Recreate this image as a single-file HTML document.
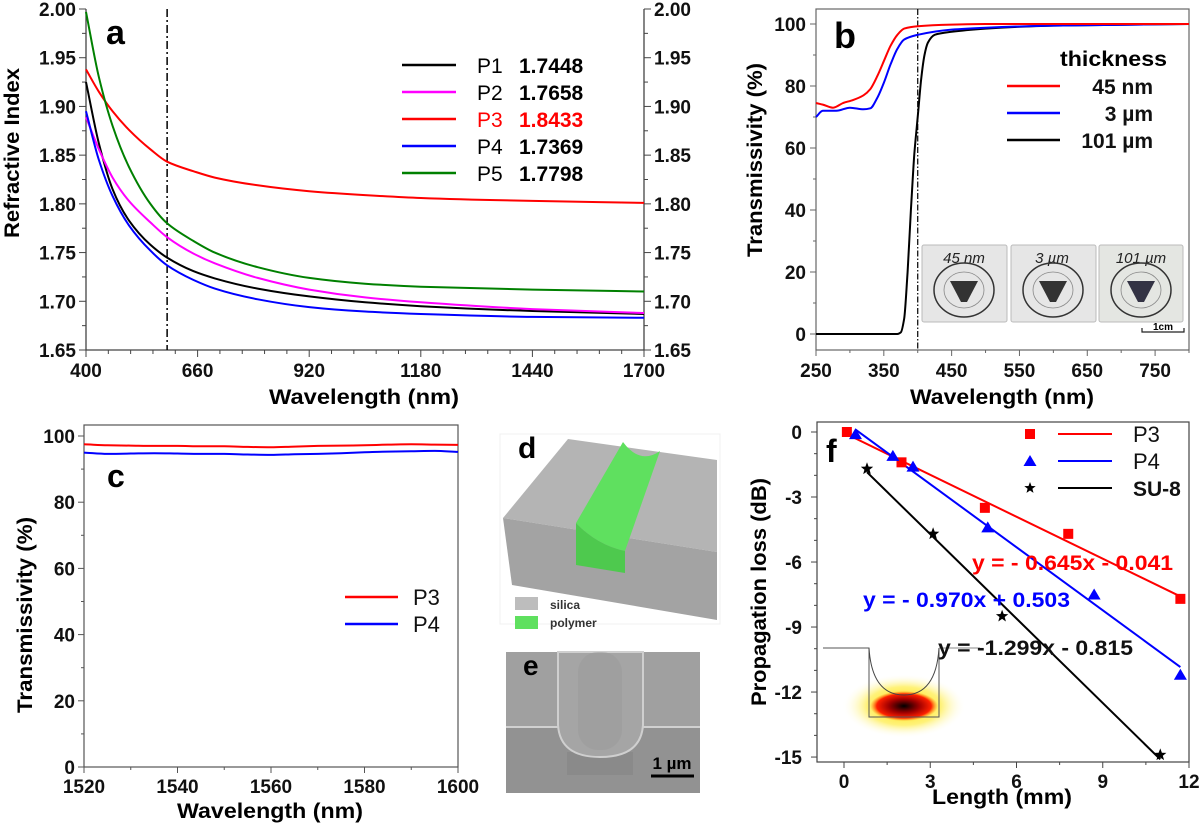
<!DOCTYPE html>
<html><head><meta charset="utf-8"><style>
html,body{margin:0;padding:0;background:#fff;}
svg{display:block;font-family:"Liberation Sans",Arial,sans-serif;}
</style></head><body>
<svg id="fig" width="1200" height="823" viewBox="0 0 1200 823" xmlns="http://www.w3.org/2000/svg" font-family="Liberation Sans, Arial, sans-serif">
  <rect x="0" y="0" width="1200" height="823" fill="#fff"/>
  <g id="pa"></g>
  <g id="pb"></g>
  <g id="pc"></g>
  <g id="pf"></g>

  <text x="106" y="44" font-size="34" font-weight="bold">a</text>
  <text x="364" y="404" font-size="21" font-weight="bold" text-anchor="middle" textLength="190" lengthAdjust="spacingAndGlyphs">Wavelength (nm)</text>
  <text transform="translate(19,153) rotate(-90)" font-size="21" font-weight="bold" text-anchor="middle" textLength="170" lengthAdjust="spacingAndGlyphs">Refractive Index</text>

  <text x="834" y="48" font-size="36" font-weight="bold">b</text>
  <text x="1002" y="404" font-size="21" font-weight="bold" text-anchor="middle" textLength="184" lengthAdjust="spacingAndGlyphs">Wavelength (nm)</text>
  <text transform="translate(762,160) rotate(-90)" font-size="21" font-weight="bold" text-anchor="middle" textLength="194" lengthAdjust="spacingAndGlyphs">Transmissivity (%)</text>
  <text x="1060" y="66" font-size="21" font-weight="bold" textLength="107" lengthAdjust="spacingAndGlyphs">thickness</text>
  <g>
    <g>
      <rect x="922" y="245" width="85" height="77" fill="#e6e6e6" stroke="#bbb" rx="2"/>
      <text x="964" y="263" font-size="15" font-style="italic" text-anchor="middle" fill="#222">45 nm</text>
      <ellipse cx="964" cy="290" rx="30" ry="27" fill="none" stroke="#333" stroke-width="1.5"/>
      <ellipse cx="964" cy="290" rx="20" ry="18" fill="none" stroke="#888" stroke-width="0.8"/>
      <polygon points="950,281 978,281 967,302 961,302" fill="#333"/>
    </g>
    <g>
      <rect x="1011" y="245" width="85" height="77" fill="#e6e6e6" stroke="#bbb" rx="2"/>
      <text x="1052" y="263" font-size="15" font-style="italic" text-anchor="middle" fill="#222">3 µm</text>
      <ellipse cx="1053" cy="290" rx="30" ry="27" fill="none" stroke="#333" stroke-width="1.5"/>
      <ellipse cx="1053" cy="290" rx="20" ry="18" fill="none" stroke="#888" stroke-width="0.8"/>
      <polygon points="1039,281 1067,281 1056,302 1050,302" fill="#333"/>
    </g>
    <g>
      <rect x="1099" y="245" width="84" height="77" fill="#e4e6e2" stroke="#bbb" rx="2"/>
      <text x="1141" y="263" font-size="15" font-style="italic" text-anchor="middle" fill="#222">101 µm</text>
      <ellipse cx="1141" cy="290" rx="30" ry="27" fill="none" stroke="#333" stroke-width="1.5"/>
      <ellipse cx="1141" cy="290" rx="20" ry="18" fill="none" stroke="#888" stroke-width="0.8"/>
      <polygon points="1127,281 1155,281 1144,302 1138,302" fill="#334"/>
    </g>
    <path d="M1142,328 V332 H1184 V328" fill="none" stroke="#222" stroke-width="1.2"/>
    <text x="1163" y="330" font-size="10" font-weight="bold" text-anchor="middle">1cm</text>
  </g>

  <text x="107" y="487" font-size="32" font-weight="bold">c</text>
  <text x="270" y="818" font-size="21" font-weight="bold" text-anchor="middle" textLength="186" lengthAdjust="spacingAndGlyphs">Wavelength (nm)</text>
  <text transform="translate(32,615) rotate(-90)" font-size="21" font-weight="bold" text-anchor="middle" textLength="196" lengthAdjust="spacingAndGlyphs">Transmissivity (%)</text>

  <g>
    <rect x="500" y="434" width="220" height="190" fill="#fff" stroke="#f0f0f0"/>
    <polygon points="568,439 717,460 717,552 503,518" fill="#b4b4b4"/>
    <polygon points="503,518 717,552 717,620 512,585" fill="#a3a3a3"/>
    <path d="M623,442 Q640,465 660,451 L625,551 Q597,545 576,523 Z" fill="#5fe05f"/>
    <path d="M576,523 Q597,545 625,551 L625,573 L576,565 Z" fill="#4ec94e"/>
    <text x="518" y="458" font-size="30" font-weight="bold">d</text>
    <rect x="515" y="597" width="23" height="13" fill="#bdbdbd"/>
    <text x="550" y="609" font-size="12" font-weight="bold" fill="#333">silica</text>
    <rect x="515" y="616" width="23" height="13" fill="#5fe05f"/>
    <text x="550" y="627" font-size="12" font-weight="bold" fill="#333">polymer</text>
  </g>

  <g>
    <rect x="506" y="652" width="194" height="141" fill="#a0a0a0"/>
    <rect x="506" y="727" width="194" height="66" fill="#929292"/>
    <line x1="506" y1="727" x2="700" y2="727" stroke="#d0d0d0" stroke-width="2"/>
    <rect x="567" y="752" width="66" height="23" fill="#8a8a8a"/>
    <path d="M558,652 V725 Q560,757 600,757 Q641,757 643,725 V652 Z" fill="#a5a5a5" stroke="#cfcfcf" stroke-width="2"/>
    <rect x="578" y="652" width="44" height="98" rx="20" fill="#999" opacity="0.5"/>
    <text x="523" y="675" font-size="28" font-weight="bold">e</text>
    <text x="672" y="769" font-size="17" font-weight="bold" text-anchor="middle">1 µm</text>
    <line x1="651" y1="776" x2="694" y2="776" stroke="#000" stroke-width="3"/>
  </g>

  <g>
    <defs>
      <radialGradient id="halo"><stop offset="0" stop-color="#ffe000"/><stop offset="0.6" stop-color="#fff27a"/><stop offset="1" stop-color="#fff" stop-opacity="0"/></radialGradient>
      <radialGradient id="core"><stop offset="0" stop-color="#000"/><stop offset="0.45" stop-color="#a00000"/><stop offset="0.8" stop-color="#ff2000"/><stop offset="1" stop-color="#ff8000" stop-opacity="0"/></radialGradient>
    </defs>
    <ellipse cx="904" cy="706" rx="62" ry="32" fill="url(#halo)"/>
    <ellipse cx="904" cy="706" rx="34" ry="15" fill="url(#core)"/>
    <path d="M823,648 H869 V717 H939 V648" fill="none" stroke="#555" stroke-width="1"/>
    <path d="M869,648 Q872,695 904,695 Q936,695 939,648" fill="none" stroke="#444" stroke-width="1"/>
    <line x1="939" y1="648" x2="980" y2="648" stroke="#888" stroke-width="1"/>
  </g>
  <text x="826" y="462" font-size="32" font-weight="bold">f</text>
  <text x="1002" y="804" font-size="21" font-weight="bold" text-anchor="middle" textLength="140" lengthAdjust="spacingAndGlyphs">Length (mm)</text>
  <text transform="translate(766,592) rotate(-90)" font-size="21" font-weight="bold" text-anchor="middle" textLength="228" lengthAdjust="spacingAndGlyphs">Propagation loss (dB)</text>
  <text x="972" y="570" font-size="21" font-weight="bold" fill="#ff0000" textLength="201" lengthAdjust="spacingAndGlyphs">y = - 0.645x - 0.041</text>
  <text x="863" y="607" font-size="21" font-weight="bold" fill="#0000ff" textLength="207" lengthAdjust="spacingAndGlyphs">y = - 0.970x + 0.503</text>
  <text x="938" y="655" font-size="21" font-weight="bold" fill="#111" textLength="195" lengthAdjust="spacingAndGlyphs">y = -1.299x - 0.815</text>
</svg>
<script>
// ---------- data: panel a ----------
const aWl = [400,430,462,500,550,589,650,700,800,920,1050,1180,1440,1700];
const aP1 = [1.925,1.862,1.815,1.783,1.758,1.7448,1.731,1.7235,1.713,1.705,1.699,1.695,1.690,1.687];
const aP2 = [1.889,1.856,1.827,1.803,1.781,1.7658,1.749,1.739,1.724,1.712,1.704,1.699,1.692,1.688];
const aP3 = [1.938,1.915,1.895,1.876,1.856,1.8433,1.8335,1.827,1.819,1.813,1.809,1.806,1.803,1.801];
const aP4 = [1.895,1.845,1.808,1.778,1.752,1.7369,1.722,1.713,1.702,1.694,1.6895,1.687,1.684,1.683];
const aP5 = [1.997,1.930,1.880,1.838,1.800,1.780,1.762,1.750,1.735,1.724,1.718,1.715,1.712,1.710];
const aXTicks = [400,660,920,1180,1440,1700];
const aYTicks = [1.65,1.70,1.75,1.80,1.85,1.90,1.95,2.00];
const aLegendNames = ['P1','P2','P3','P4','P5'];
const aLegendValues = ['1.7448','1.7658','1.8433','1.7369','1.7798'];
const aMarker = 589;
// ---------- data: panel b ----------
const bRedWl = [250,260,275,290,305,320,330,340,350,360,370,380,400,450,500,800];
const bRed = [74.5,74,73,74.5,75.5,77,79,83,88,93,96.5,98.5,99.3,99.8,100,100];
const bBlueWl = [250,260,280,300,320,330,340,350,360,370,380,400,450,500,600,800];
const bBlue = [70,72,72,73,72.5,72.8,76,81,87,92,95,96.5,98.2,98.8,99.5,100];
const bBlackWl = [250,370,375,380,385,390,395,400,405,410,415,425,450,500,600,800];
const bBlack = [0,0,0.5,5,20,40,58,70,82,90,94,96.5,97.5,98.5,99.5,100];
const bXTicks = [250,350,450,550,650,750];
const bYTicks = [0,20,40,60,80,100];
const bLegend = ['45 nm','3 µm','101 µm'];
const bMarker = 400;
// ---------- data: panel c ----------
const cWl = [1520,1525,1530,1535,1540,1545,1550,1555,1560,1565,1570,1575,1580,1585,1590,1595,1600];
const cP3 = [97.5,97.2,97.1,97.0,97.0,96.9,96.9,96.7,96.6,96.8,97.0,97.1,97.2,97.4,97.5,97.4,97.3];
const cP4 = [95.0,94.6,94.7,94.8,94.7,94.6,94.6,94.4,94.3,94.5,94.6,94.8,95.1,95.3,95.4,95.5,95.2];
const cXTicks = [1520,1540,1560,1580,1600];
const cYTicks = [0,20,40,60,80,100];
// ---------- data: panel f ----------
const fP3x = [0.1,2.0,4.9,7.8,11.7];
const fP3y = [0,-1.4,-3.5,-4.7,-7.7];
const fP4x = [0.4,1.7,2.4,5.0,8.7,11.7];
const fP4y = [-0.1,-1.1,-1.6,-4.4,-7.5,-11.2];
const fSUx = [0.8,3.1,5.5,11.0];
const fSUy = [-1.7,-4.7,-8.5,-14.9];
const fSlopes = [-0.645,-0.970,-1.299];
const fIntercepts = [-0.041,0.503,-0.815];
const fXTicks = [0,3,6,9,12];
const fYTicks = [0,-3,-6,-9,-12,-15];

const NS = 'http://www.w3.org/2000/svg';
function mk(parent, tag, attrs, name, inter) {
  const e = document.createElementNS(NS, tag);
  for (const k in attrs) e.setAttribute(k, attrs[k]);
  
  
  parent.appendChild(e);
  return e;
}
function txt(parent, x, y, s, size, weight, anchor, name, fill) {
  const t = mk(parent, 'text', {x: x, y: y, 'font-size': size, 'font-weight': weight, 'text-anchor': anchor, fill: fill || '#111'}, name, false);
  t.textContent = s;
  return t;
}
function monoPath(xs, ys) {
  const n = xs.length, d = [], m = new Array(n);
  for (let i = 0; i < n - 1; i++) d.push((ys[i + 1] - ys[i]) / (xs[i + 1] - xs[i]));
  m[0] = d[0]; m[n - 1] = d[n - 2];
  for (let i = 1; i < n - 1; i++) {
    if (d[i - 1] * d[i] <= 0) m[i] = 0;
    else { const h0 = xs[i] - xs[i - 1], h1 = xs[i + 1] - xs[i];
      m[i] = 3 * (h0 + h1) / ((2 * h1 + h0) / d[i - 1] + (h1 + 2 * h0) / d[i]); }
  }
  let p = 'M' + xs[0].toFixed(1) + ',' + ys[0].toFixed(1);
  for (let i = 0; i < n - 1; i++) {
    const h = xs[i + 1] - xs[i];
    p += ' C' + (xs[i] + h / 3).toFixed(1) + ',' + (ys[i] + m[i] * h / 3).toFixed(1) + ' ' +
      (xs[i + 1] - h / 3).toFixed(1) + ',' + (ys[i + 1] - m[i + 1] * h / 3).toFixed(1) + ' ' +
      xs[i + 1].toFixed(1) + ',' + ys[i + 1].toFixed(1);
  }
  return p;
}
function curve(g, xs, ys, sx, sy, color, w, name) {
  return mk(g, 'path', {d: monoPath(xs.map(sx), ys.map(sy)), fill: 'none', stroke: color, 'stroke-width': w, 'stroke-linejoin': 'round'}, name, false);
}
const TS = 19;

// ---------- panel a ----------
(function () {
  const g = document.getElementById('pa');
  const L = 86, R = 644, T = 9, B = 350;
  const sx = v => L + (v - 400) / 1300 * (R - L);
  const sy = v => T + (2.0 - v) / 0.35 * (B - T);
  mk(g, 'path', {d: `M${L},${T} V${B} H${R} V${T}`, fill: 'none', stroke: '#444', 'stroke-width': 1.3}, 'panel-a-axes', false);
  for (let v = 400; v <= 1700.1; v += 52) {
    const major = aXTicks.some(t => Math.abs(t - v) < 0.1);
    mk(g, 'line', {x1: sx(v), y1: B, x2: sx(v), y2: B + (major ? 7 : 4), stroke: '#444'}, 'panel-a-x-tick', false);
  }
  aXTicks.forEach(v => txt(g, sx(v), 377, String(v), TS, 'bold', 'middle', 'panel-a-x-tick-label'));
  for (let v = 1.65; v <= 2.0001; v += 0.025) {
    const major = Math.abs(Math.round(v * 20) - v * 20) < 0.01;
    mk(g, 'line', {x1: L, y1: sy(v), x2: L - (major ? 7 : 4), y2: sy(v), stroke: '#444'}, 'panel-a-y-tick', false);
    mk(g, 'line', {x1: R, y1: sy(v), x2: R + (major ? 7 : 4), y2: sy(v), stroke: '#444'}, 'panel-a-right-y-tick', false);
  }
  aYTicks.forEach(v => {
    txt(g, L - 10, sy(v) + 7, v.toFixed(2), TS, 'bold', 'end', 'panel-a-y-tick-label');
    txt(g, R + 10, sy(v) + 7, v.toFixed(2), TS, 'bold', 'start', 'panel-a-right-y-tick-label');
  });
  mk(g, 'line', {x1: sx(aMarker), y1: T, x2: sx(aMarker), y2: B, stroke: '#000', 'stroke-width': 1.5, 'stroke-dasharray': '8,3,2,3'}, 'panel-a-589nm-marker-line', false);
  const series = [aP1, aP2, aP3, aP4, aP5];
  const colors = ['#000', '#ff00ff', '#ff0000', '#0000ff', '#008000'];
  series.forEach((s, i) => curve(g, aWl, s, sx, sy, colors[i], 2, 'panel-a-curve-' + aLegendNames[i].toLowerCase()));
  aLegendNames.forEach((n, i) => {
    const y = 65 + i * 27;
    mk(g, 'line', {x1: 402, y1: y, x2: 456, y2: y, stroke: colors[i], 'stroke-width': 2.5}, 'legend-a-line-' + n.toLowerCase(), false);
    const c = i === 2 ? '#ff0000' : '#000';
    txt(g, 477, y + 8, n, 21, 'normal', 'start', 'legend-a-name-' + n.toLowerCase(), c);
    txt(g, 519, y + 8, aLegendValues[i], 21, 'bold', 'start', 'legend-a-value-' + n.toLowerCase(), c);
  });
})();

// ---------- panel b ----------
(function () {
  const g = document.getElementById('pb');
  const L = 816, R = 1189, T = 9, B = 350;
  const sx = v => L + (v - 250) / 550 * (R - L);
  const sy = v => 334 - v * 3.1;
  mk(g, 'rect', {x: L, y: T, width: R - L, height: B - T, fill: 'none', stroke: '#666', 'stroke-width': 1.2}, 'panel-b-axes', false);
  for (let v = 250; v <= 800; v += 50) {
    const major = bXTicks.includes(v);
    mk(g, 'line', {x1: sx(v), y1: B, x2: sx(v), y2: B + (major ? 6 : 3), stroke: '#666'}, 'panel-b-x-tick', false);
  }
  bXTicks.forEach(v => txt(g, sx(v), 377, String(v), TS, 'bold', 'middle', 'panel-b-x-tick-label'));
  for (let v = 0; v <= 100; v += 10) {
    const major = bYTicks.includes(v);
    mk(g, 'line', {x1: L, y1: sy(v), x2: L - (major ? 6 : 3), y2: sy(v), stroke: '#666'}, 'panel-b-y-tick', false);
  }
  bYTicks.forEach(v => txt(g, L - 10, sy(v) + 7, String(v), TS, 'bold', 'end', 'panel-b-y-tick-label'));
  mk(g, 'line', {x1: sx(bMarker), y1: T, x2: sx(bMarker), y2: B, stroke: '#000', 'stroke-width': 1.2, 'stroke-dasharray': '6,2,1.5,2'}, 'panel-b-400nm-marker-line', false);
  curve(g, bBlackWl, bBlack, sx, sy, '#000', 2, 'panel-b-curve-101um');
  curve(g, bBlueWl, bBlue, sx, sy, '#0000ff', 2, 'panel-b-curve-3um');
  curve(g, bRedWl, bRed, sx, sy, '#ff0000', 2, 'panel-b-curve-45nm');
  const colors = ['#ff0000', '#0000ff', '#000'];
  bLegend.forEach((n, i) => {
    const y = 86 + i * 27;
    mk(g, 'line', {x1: 1007, y1: y, x2: 1060, y2: y, stroke: colors[i], 'stroke-width': 2.5}, 'legend-b-line', false);
    txt(g, 1153, y + 8, n, 21, 'bold', 'end', 'legend-b-label');
  });
})();

// ---------- panel c ----------
(function () {
  const g = document.getElementById('pc');
  const L = 84, R = 458, T = 425, B = 767;
  const sx = v => L + (v - 1520) / 80 * (R - L);
  const sy = v => B - v * 3.31;
  mk(g, 'rect', {x: L, y: T, width: R - L, height: B - T, fill: 'none', stroke: '#555', 'stroke-width': 1.2}, 'panel-c-axes', false);
  for (let v = 1520; v <= 1600; v += 10) {
    const major = cXTicks.includes(v);
    mk(g, 'line', {x1: sx(v), y1: B, x2: sx(v), y2: B + (major ? 6 : 3), stroke: '#555'}, 'panel-c-x-tick', false);
  }
  cXTicks.forEach(v => txt(g, sx(v), 793, String(v), TS, 'bold', 'middle', 'panel-c-x-tick-label'));
  for (let v = 0; v <= 100; v += 10) {
    const major = cYTicks.includes(v);
    mk(g, 'line', {x1: L, y1: sy(v), x2: L - (major ? 6 : 3), y2: sy(v), stroke: '#555'}, 'panel-c-y-tick', false);
  }
  cYTicks.forEach(v => txt(g, L - 9, sy(v) + 7, String(v), TS, 'bold', 'end', 'panel-c-y-tick-label'));
  curve(g, cWl, cP3, sx, sy, '#ff0000', 2, 'panel-c-curve-p3');
  curve(g, cWl, cP4, sx, sy, '#0000ff', 2, 'panel-c-curve-p4');
  [['P3', '#ff0000'], ['P4', '#0000ff']].forEach((d, i) => {
    const y = 597 + i * 27;
    mk(g, 'line', {x1: 345, y1: y, x2: 398, y2: y, stroke: d[1], 'stroke-width': 2.5}, 'legend-c-line-' + d[0].toLowerCase(), false);
    txt(g, 413, y + 8, d[0], 22, 'normal', 'start', 'legend-c-label-' + d[0].toLowerCase());
  });
})();

// ---------- panel f ----------
(function () {
  const g = document.getElementById('pf');
  const L = 817, R = 1189, T = 422, B = 762;
  const sx = v => 844 + v * 28.75;
  const sy = v => 432 - v * 21.67;
  mk(g, 'rect', {x: L, y: T, width: R - L, height: B - T, fill: 'none', stroke: '#444', 'stroke-width': 1.2}, 'panel-f-axes', false);
  for (let v = 0; v <= 12; v += 1.5) {
    const major = fXTicks.includes(v);
    mk(g, 'line', {x1: sx(v), y1: B, x2: sx(v), y2: B + (major ? 6 : 3), stroke: '#444'}, 'panel-f-x-tick', false);
  }
  fXTicks.forEach(v => txt(g, sx(v), 788, String(v), TS, 'bold', 'middle', 'panel-f-x-tick-label'));
  for (let v = 0; v >= -15; v -= 1) {
    const major = fYTicks.includes(v);
    mk(g, 'line', {x1: L, y1: sy(v), x2: L - (major ? 6 : 3), y2: sy(v), stroke: '#444'}, 'panel-f-y-tick', false);
  }
  fYTicks.forEach(v => txt(g, 802, sy(v) + 7, String(v), TS, 'bold', 'end', 'panel-f-y-tick-label'));
  const xs = [fP3x, fP4x, fSUx], colors = ['#ff0000', '#0000ff', '#000'], names = ['p3', 'p4', 'su8'];
  xs.forEach((arr, i) => {
    const x0 = arr[0], x1 = arr[arr.length - 1];
    mk(g, 'line', {x1: sx(x0), y1: sy(fSlopes[i] * x0 + fIntercepts[i]), x2: sx(x1), y2: sy(fSlopes[i] * x1 + fIntercepts[i]), stroke: colors[i], 'stroke-width': 2}, 'fit-line-' + names[i], false);
  });
  fP3x.forEach((x, i) => {
    mk(g, 'rect', {x: sx(x) - 5, y: sy(fP3y[i]) - 5, width: 10, height: 10, fill: '#ff0000'}, 'point-p3', false);
  });
  fP4x.forEach((x, i) => {
    const cx = sx(x), cy = sy(fP4y[i]);
    mk(g, 'polygon', {points: `${cx},${cy - 6} ${cx + 6.5},${cy + 5} ${cx - 6.5},${cy + 5}`, fill: '#0000ff'}, 'point-p4', false);
  });
  function star(cx, cy, r) {
    let p = [];
    for (let k = 0; k < 10; k++) {
      const a = -Math.PI / 2 + k * Math.PI / 5, rr = k % 2 ? r * 0.42 : r;
      p.push((cx + rr * Math.cos(a)).toFixed(1) + ',' + (cy + rr * Math.sin(a)).toFixed(1));
    }
    return p.join(' ');
  }
  fSUx.forEach((x, i) => {
    mk(g, 'polygon', {points: star(sx(x), sy(fSUy[i]), 6.5), fill: '#000'}, 'point-su8', false);
  });
  const ly = [434, 461, 488];
  mk(g, 'rect', {x: 1025, y: ly[0] - 5, width: 10, height: 10, fill: '#ff0000'}, 'legend-f-marker-p3', false);
  mk(g, 'polygon', {points: `1030,${ly[1] - 6} 1036.5,${ly[1] + 5} 1023.5,${ly[1] + 5}`, fill: '#0000ff'}, 'legend-f-marker-p4', false);
  mk(g, 'polygon', {points: star(1030, ly[2], 6), fill: '#000'}, 'legend-f-marker-su8', false);
  ['P3', 'P4', 'SU-8'].forEach((n, i) => {
    mk(g, 'line', {x1: 1058, y1: ly[i], x2: 1112, y2: ly[i], stroke: colors[i], 'stroke-width': 2}, 'legend-f-line-' + names[i], false);
    txt(g, 1133, ly[i] + 8, n, i < 2 ? 22 : 21, i < 2 ? 'normal' : 'bold', 'start', 'legend-f-label-' + names[i]);
  });
})();
</script>
</body></html>
